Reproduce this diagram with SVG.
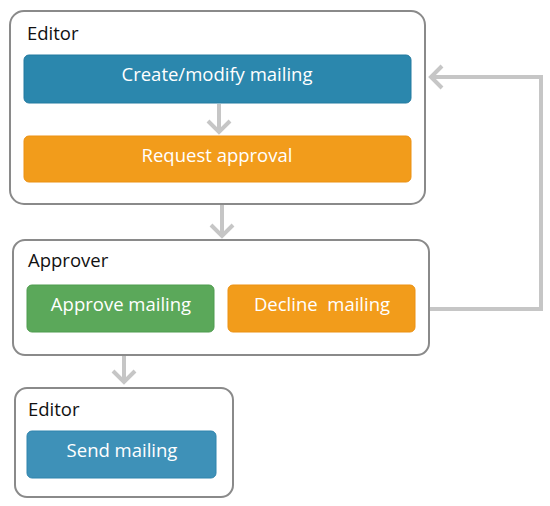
<svg xmlns="http://www.w3.org/2000/svg" width="550" height="506" viewBox="0 0 550 506">
<style>
.lane{fill:#fff;stroke:#8a8a8a;stroke-width:2}
.title{font-family:"Open Sans","Noto Sans",sans-serif;font-size:18.5px;fill:#111}
.lbl{font-family:"Open Sans","Noto Sans",sans-serif;font-size:18.5px;fill:#fff;text-anchor:middle;white-space:pre}
.conn{fill:none;stroke:#c6c6c6;stroke-width:4}
.blue{fill:#2b87ad;stroke:#237aa0;stroke-width:1}
.orange{fill:#f29c1b;stroke:#ec9112;stroke-width:1}
.green{fill:#5ba85a;stroke:#4f9c4e;stroke-width:1}
.blue2{fill:#3e91b8;stroke:#2f84ad;stroke-width:1}
</style>
<rect width="550" height="506" fill="#fff"/>
<g id="lane-editor1">
<rect class="lane" x="10" y="11" width="415" height="193" rx="14"/>
<text class="title" x="27" y="40">Editor</text>
</g>
<g id="node-create">
<rect class="blue" x="24" y="55" width="387" height="48" rx="5"/>
<text class="lbl" x="217" y="81">Create/modify mailing</text>
</g>
<g id="node-request">
<rect class="orange" x="24" y="136" width="387" height="46" rx="5"/>
<text class="lbl" x="217" y="162">Request approval</text>
</g>
<g id="lane-approver">
<rect class="lane" x="13" y="240" width="416" height="115" rx="12"/>
<text class="title" x="28" y="267">Approver</text>
</g>
<g id="node-approve">
<rect class="green" x="27" y="285" width="187" height="47" rx="5"/>
<text class="lbl" x="121" y="311">Approve mailing</text>
</g>
<g id="node-decline">
<rect class="orange" x="228" y="285" width="187" height="47" rx="5"/>
<text class="lbl" x="322" y="311" xml:space="preserve">Decline  mailing</text>
</g>
<g id="lane-editor2">
<rect class="lane" x="15" y="388" width="218" height="109" rx="12"/>
<text class="title" x="28" y="416">Editor</text>
</g>
<g id="node-send">
<rect class="blue2" x="27" y="431" width="189" height="47" rx="5"/>
<text class="lbl" x="122" y="457">Send mailing</text>
</g>
<g id="connectors">
<path class="conn" d="M219 104V133M208 121L219 132L230 121"/>
<path class="conn" d="M222 205V237M211 225L222 236L233 225"/>
<path class="conn" d="M124 356V383M113 371L124 382L135 371"/>
<path class="conn" d="M430 309H541V77H430M442 66L431 77L442 88"/>
</g>
</svg>
